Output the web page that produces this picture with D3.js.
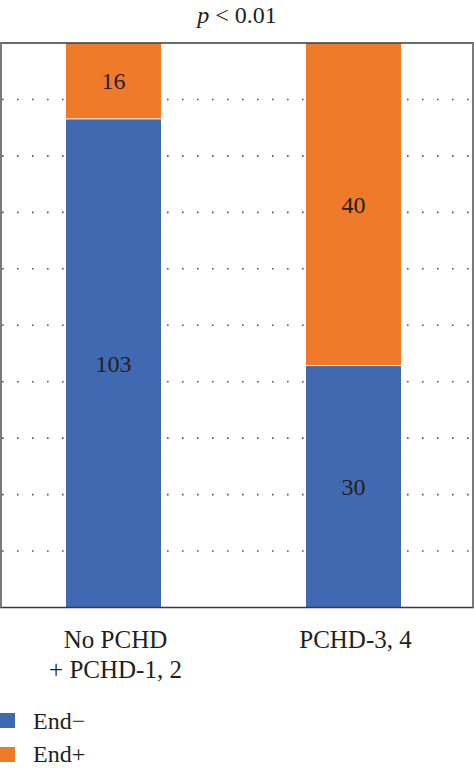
<!DOCTYPE html>
<html><head><meta charset="utf-8">
<script src="https://cdn.jsdelivr.net/npm/d3@7"></script>
<style>html,body{margin:0;padding:0;background:#fff;}svg{display:block;}</style>
</head><body>
<script>
const categories = ["No PCHD|+ PCHD-1, 2", "PCHD-3, 4"];
const series = ["End−", "End+"];
const endMinus = [103, 30];
const endPlus = [16, 40];
const gridTicks = [0.1,0.2,0.3,0.4,0.5,0.6,0.7,0.8,0.9];
const colors = ["#4169B1", "#EF7B2A"];

const W = 474, H = 771;
const plotTop = 43, plotBottom = 607.5, plotLeft = 1, plotRight = 473;
const font = "'Liberation Serif','DejaVu Serif',serif";

const svg = d3.select("body").append("svg").attr("width", W).attr("height", H);

const y = d3.scaleLinear().domain([0,1]).range([plotBottom, plotTop]);
const x = d3.scalePoint().domain(categories).range([113.5, 353.5]);
const barW = 95;

// gridlines
svg.append("g").selectAll("line").data(gridTicks).join("line")
  .attr("x1", plotLeft+1).attr("x2", plotRight)
  .attr("y1", d => y(d)).attr("y2", d => y(d))
  .attr("stroke", "#555").attr("stroke-width", 1.6)
  .attr("stroke-dasharray", "1.6 13.4");

const rows = categories.map((c,i) => ({cat:c, "End−": endMinus[i]/(endMinus[i]+endPlus[i]), "End+": endPlus[i]/(endMinus[i]+endPlus[i]), raw:[endMinus[i], endPlus[i]]}));
const stacked = d3.stack().keys(series)(rows);

stacked.forEach((layer, si) => {
  const g = svg.append("g");
  g.selectAll("rect").data(layer).join("rect")
    .attr("x", d => x(d.data.cat) - barW/2)
    .attr("width", barW)
    .attr("y", d => y(d[1]))
    .attr("height", d => y(d[0]) - y(d[1]))
    .attr("fill", colors[si]);
  g.selectAll("text").data(layer).join("text")
    .attr("x", d => x(d.data.cat))
    .attr("y", d => (y(d[0]) + y(d[1]))/2 + 8.5)
    .attr("text-anchor", "middle")
    .attr("font-family", font).attr("font-size", 24).attr("fill", "#231f20")
    .text(d => d.data.raw[si]);
});
// white separators
svg.append("g").selectAll("line").data(stacked[0]).join("line")
  .attr("x1", d => x(d.data.cat) - barW/2).attr("x2", d => x(d.data.cat) + barW/2)
  .attr("y1", d => y(d[1])).attr("y2", d => y(d[1]))
  .attr("stroke", "#fff").attr("stroke-width", 1);

// frame
svg.append("line").attr("x1", 0).attr("x2", W).attr("y1", plotTop).attr("y2", plotTop).attr("stroke", "#3a3a3a").attr("stroke-width", 1.5);
svg.append("line").attr("x1", 0).attr("x2", W).attr("y1", plotBottom).attr("y2", plotBottom).attr("stroke", "#3a3a3a").attr("stroke-width", 1.5);
svg.append("line").attr("x1", 1).attr("x2", 1).attr("y1", plotTop).attr("y2", plotBottom).attr("stroke", "#7a7a7a").attr("stroke-width", 2);
svg.append("line").attr("x1", 473).attr("x2", 473).attr("y1", plotTop).attr("y2", plotBottom).attr("stroke", "#7a7a7a").attr("stroke-width", 2);

// title
const t = svg.append("text").attr("x", 237).attr("y", 23).attr("text-anchor", "middle")
  .attr("font-family", font).attr("font-size", 24).attr("fill", "#231f20");
t.append("tspan").attr("font-style", "italic").text("p");
t.append("tspan").text(" < 0.01");

// x labels
categories.forEach(c => {
  const lines = c.split("|");
  const tx = svg.append("text").attr("text-anchor", "middle")
    .attr("font-family", font).attr("font-size", 25).attr("fill", "#231f20");
  lines.forEach((l, i) => tx.append("tspan").attr("x", x(c) + 2).attr("y", 648 + i*30).text(l));
});

// legend
series.forEach((s, i) => {
  svg.append("rect").attr("x", 0).attr("y", 713 + i*34).attr("width", 15).attr("height", 15).attr("fill", colors[i]);
  svg.append("text").attr("x", 33).attr("y", 729 + i*33)
    .attr("font-family", font).attr("font-size", 24).attr("fill", "#231f20").text(s);
});
</script>
</body></html>
